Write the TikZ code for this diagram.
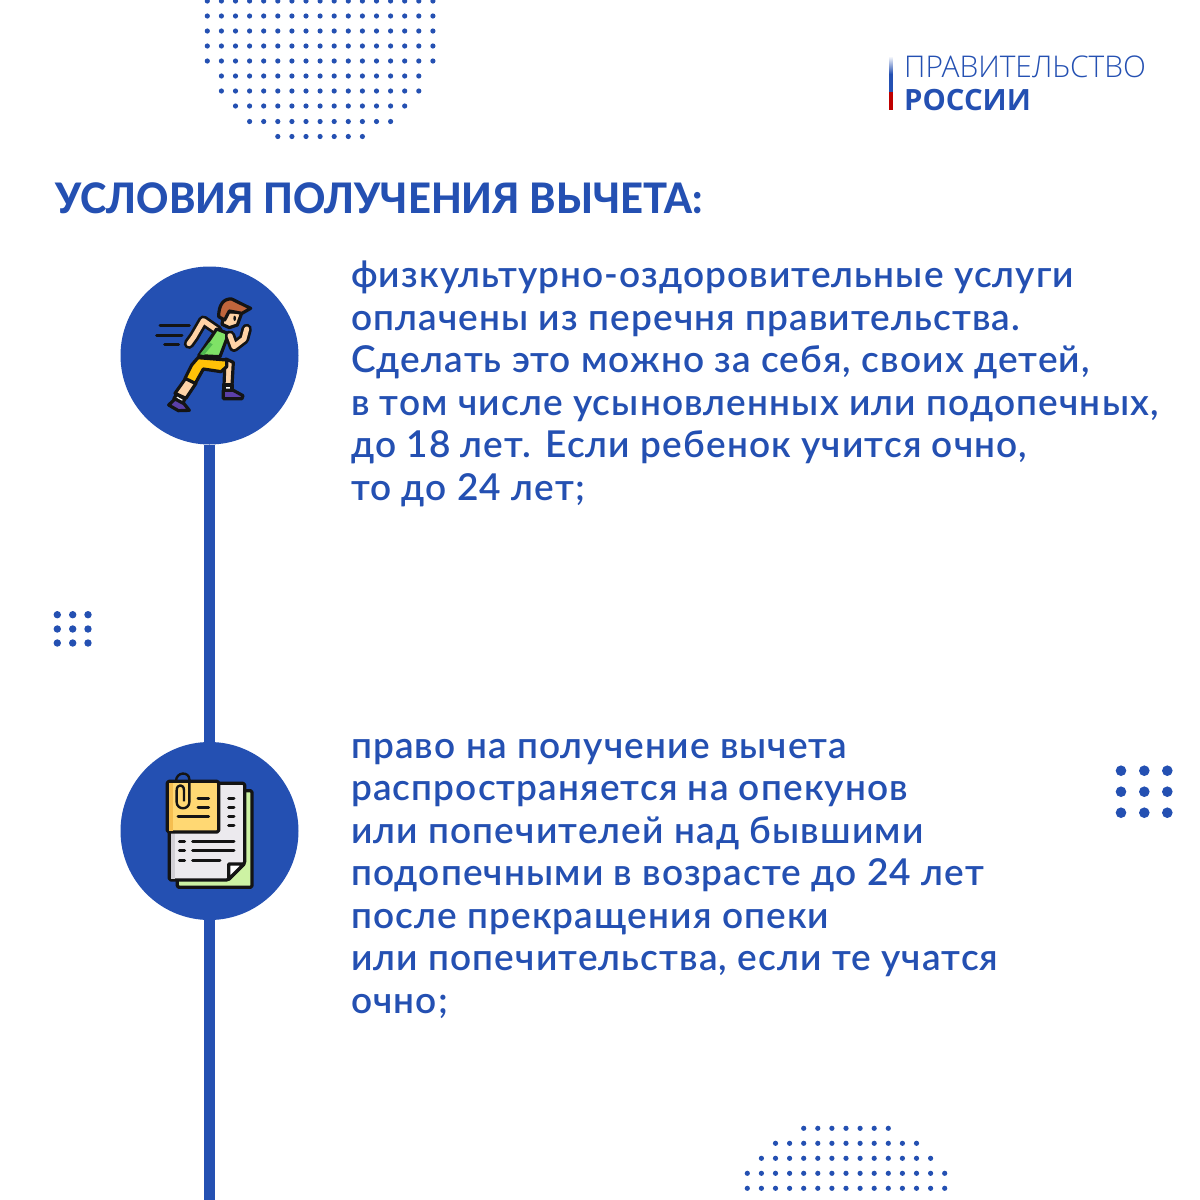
\documentclass[tikz,border=0pt]{standalone}
\usepackage{fontspec}
\setmainfont{Lato Semibold}[LetterSpace=3.0,WordSpace=1.0]
\newfontfamily\headfont{Lato Heavy}[FakeStretch=0.95,WordSpace=1.0]
\newfontfamily\logofont{Open Sans Light}
\newfontfamily\logobold{Open Sans}[UprightFont=*,BoldFont=* Bold]
\definecolor{gblue}{HTML}{2450B2}
\definecolor{ink}{HTML}{141414}
\definecolor{skin}{HTML}{FFD3A6}
\definecolor{hair}{HTML}{C0663C}
\definecolor{shirt}{HTML}{7FE266}
\definecolor{shirtd}{HTML}{4FB84F}
\definecolor{shorts}{HTML}{FFC107}
\definecolor{shoe}{HTML}{5B3FA8}
\definecolor{note}{HTML}{FFD873}
\definecolor{noted}{HTML}{F5BE50}
\definecolor{sheet}{HTML}{ECEAEE}
\definecolor{sheetd}{HTML}{D2D0D6}
\definecolor{back}{HTML}{CDF2A3}
\tikzset{
  heading/.style={anchor=base west,inner sep=0,text=gblue,font=\headfont\fontsize{42}{42}\selectfont},
  bodyline/.style={anchor=base west,inner sep=0,text=gblue,font=\fontsize{37}{37}\selectfont},
  badge/.style={circle,fill=gblue,minimum size=178pt,inner sep=0},
  linkline/.style={gblue,line width=11pt},
  inkshape/.style={draw=ink,line width=3.2pt,line join=round,line cap=round},
  inkline/.style={ink,line width=3pt,line cap=round},
  limbout/.style={ink,line width=10.5pt,line join=round,line cap=round},
  limbin/.style={skin,line width=5pt,line join=round,line cap=round},
  icon/.style={x=0.33333pt,y=-0.33333pt},
}
\newcommand{\dotrow}[3]{\foreach \i in {0,...,#3}{\fill[gblue] (#1+\i*14.1,#2) circle (2.6);}}
\begin{document}
\begin{tikzpicture}[x=1pt,y=-1pt]
\useasboundingbox (0,0) rectangle (1200,1200);
\fill[white] (0,0) rectangle (1200,1200);
\begin{scope}
\clip (0,0) rectangle (1200,1200);
\dotrow{207.3}{1}{16}\dotrow{207.3}{16}{16}\dotrow{207.3}{31}{16}\dotrow{207.3}{46}{16}\dotrow{207.3}{61}{16}
\dotrow{221.4}{76}{14}\dotrow{221.4}{91}{14}\dotrow{235.5}{106}{12}\dotrow{249.6}{121.5}{10}\dotrow{277.8}{136.5}{6}
\dotrow{803.7}{1128.3}{6}\dotrow{775.5}{1143.3}{10}\dotrow{761.4}{1158.3}{12}\dotrow{747.3}{1173.3}{14}\dotrow{747.3}{1188.3}{14}
\foreach \x in {57.3,72.7,88}\foreach \y in {614.7,629,643}{\fill[gblue] (\x,\y) circle (3.7);}
\foreach \x in {1121,1144.3,1167.3}\foreach \y in {770.7,791.7,812.7}{\fill[gblue] (\x,\y) circle (5.3);}
\end{scope}
% timeline
\coordinate (lineend) at (209.5,1200);
\node[badge] (c1) at (209.5,355.5) {};
\node[badge] (c2) at (209.5,831) {};
\draw[linkline] (c1) -- (c2);
\draw[linkline] (c2) -- (lineend);
% runner
\begin{scope}[shift={(120,265)},icon]
\draw[inkline] (120,182) -- (208,182);
\draw[inkline] (110,210) -- (186,210);
\draw[inkline] (134,238) -- (176,238);
% back leg
\filldraw[inkshape,fill=skin] (197,340) -- (228,355) -- (198,400) -- (165,385) -- cycle;
\filldraw[inkshape,fill=white] (170,388) -- (195,402) -- (188,415) -- (162,400) -- cycle;
\filldraw[inkshape,fill=shoe] (165,402) -- (192,416) -- (208,436) -- (175,437) -- (146,420) -- cycle;
% front leg
\filldraw[inkshape,fill=skin] (318,282) -- (340,292) -- (336,362) -- (312,362) -- (314,312) -- cycle;
\filldraw[inkshape,fill=white] (312,360) -- (336,360) -- (336,376) -- (312,376) -- cycle;
\filldraw[inkshape,fill=shoe] (310,376) -- (340,376) -- (369,392) -- (366,401) -- (310,401) -- cycle;
% shorts
\filldraw[inkshape,fill=shorts] (234,278) -- (320,285) -- (320,305) -- (303,320) -- (250,312) -- (226,355) -- (195,340) -- (215,300) -- cycle;
% arms behind torso
\draw[limbout] (292,196) -- (250,167) -- (222,215) -- (207,236);
\draw[limbin] (292,196) -- (250,167) -- (222,215) -- (207,236);
% torso
\filldraw[inkshape,fill=shirt] (290,192) -- (326,206) -- (300,275) -- (236,272) -- cycle;
\fill[shirtd] (268,232) -- (278,238) -- (252,270) -- (240,268) -- cycle;
\draw[limbout] (330,212) -- (342,245) -- (372,222) -- (380,192);
\draw[limbin] (330,212) -- (342,245) -- (372,222) -- (380,192);
% head
\filldraw[inkshape,fill=skin] (312,140) -- (366,142) -- (352,180) -- (328,188) -- (306,178) -- cycle;
\fill[ink] (344,160) ellipse (4 and 8);
\filldraw[inkshape,fill=hair] (296,155) .. controls (296,120) and (310,100) .. (335,102) -- (392,130) -- (366,145) -- (328,138) -- (314,165) -- cycle;
\end{scope}
% documents
\begin{scope}[shift={(120,742)},icon]
\filldraw[inkshape,fill=back,rounded corners=1.5pt] (172,146) rectangle (396,436);
\filldraw[inkshape,fill=sheet,rounded corners=1.5pt] (148,124) -- (374,124) -- (374,364) -- (324,414) -- (148,414) -- cycle;
\fill[sheetd] (152,270) rectangle (165,410);
\filldraw[inkshape,fill=white] (372,366) -- (326,366) -- (326,412) -- cycle;
\filldraw[inkshape,fill=note,rounded corners=1.5pt] (142,118) rectangle (296,270);
\fill[noted] (146,122) rectangle (158,266);
\draw[ink,line width=2.4pt,line join=round] (168,118) .. controls (168,88) and (208,88) .. (208,112) -- (208,180) .. controls (208,205) and (170,205) .. (170,180) -- (170,145) .. controls (170,125) and (192,125) .. (192,145) -- (192,178);
\foreach \y in {170,196}{\draw[inkline] (234,\y) -- (266,\y);}
\draw[inkline] (174,223) -- (266,223);
\foreach \y in {168,196,224,251}{\draw[inkline] (326,\y) -- (342,\y);}
\foreach \y in {299,326,354}{\draw[inkline] (178,\y) -- (194,\y);}
\draw[inkline] (218,299) -- (342,299);
\draw[inkline] (218,326) -- (342,326);
\draw[inkline] (218,354) -- (300,354);
\end{scope}
% logo
\shade[top color=white,bottom color=gblue] (889,56) rectangle (892.7,74);
\fill[gblue] (889,74) rectangle (892.7,92);
\fill[red!75!black] (889,92) rectangle (892.7,110);
\node[anchor=base west,inner sep=0,text=gblue,font=\logofont\fontsize{29.9}{30}\selectfont] (l1) at (904,77) {ПРАВИТЕЛЬСТВО};
\node[anchor=base west,inner sep=0,text=gblue,font=\logobold\bfseries\fontsize{29.3}{30}\selectfont] (l2) at (904,110) {РОССИИ};
% heading
\node[heading] (h) at (55,213) {УСЛОВИЯ ПОЛУЧЕНИЯ ВЫЧЕТА:};
% text 1
\node[bodyline] (a1) at (351,287.5) {физкультурно-оздоровительные услуги};
\node[bodyline] (a2) at (351,330) {оплачены из перечня правительства.};
\node[bodyline] (a3) at (351,372.5) {Сделать это можно за себя, своих детей,};
\node[bodyline] (a4) at (351,415) {в том числе усыновленных или подопечных,};
\node[bodyline] (a5) at (351,457.5) {до 18 лет. Если ребенок учится очно,};
\node[bodyline] (a6) at (351,500) {то до 24 лет;};
% text 2
\node[bodyline] (b1) at (351,758) {право на получение вычета};
\node[bodyline] (b2) at (351,800.5) {распространяется на опекунов};
\node[bodyline] (b3) at (351,843) {или попечителей над бывшими};
\node[bodyline] (b4) at (351,885.5) {подопечными в возрасте до 24 лет};
\node[bodyline] (b5) at (351,928) {после прекращения опеки};
\node[bodyline] (b6) at (351,970.5) {или попечительства, если те учатся};
\node[bodyline] (b7) at (351,1013) {очно;};
\end{tikzpicture}
\end{document}
